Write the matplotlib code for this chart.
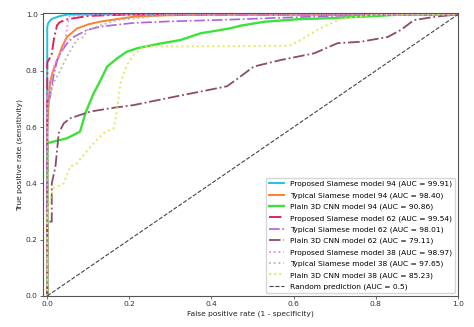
#------------------------------------------------------------------------------
# PROGRAM: roc-curves.py
#------------------------------------------------------------------------------

import numpy as np
import matplotlib
matplotlib.use('agg')
import matplotlib.pyplot as plt; plt.close('all')
from matplotlib import rcParams

#------------------------------------------------------------------------------
# SETTINGS
#------------------------------------------------------------------------------

fontsize = 5.4
rcParams['font.family'] = 'sans-serif'
rcParams['font.sans-serif'] = ['DejaVu Sans']

#------------------------------------------------------------------------------
# DATA: ROC curves (fpr, tpr)
#------------------------------------------------------------------------------

labels = [
    'Proposed Siamese model 94 (AUC = 99.91)',
    'Typical Siamese model 94 (AUC = 98.40)',
    'Plain 3D CNN model 94 (AUC = 90.86)',
    'Proposed Siamese model 62 (AUC = 99.54)',
    'Typical Siamese model 62 (AUC = 98.01)',
    'Plain 3D CNN model 62 (AUC = 79.11)',
    'Proposed Siamese model 38 (AUC = 98.97)',
    'Typical Siamese model 38 (AUC = 97.65)',
    'Plain 3D CNN model 38 (AUC = 85.23)',
]

fpr_p94 = [0.0, 0.0, 0.002, 0.006, 0.011, 0.02, 0.03, 0.05, 1.0]
tpr_p94 = [0.0, 0.955, 0.968, 0.976, 0.984, 0.989, 0.994, 1.0, 1.0]

fpr_t94 = [0.0, 0.0, 0.004, 0.007, 0.014, 0.02, 0.03, 0.036, 0.048, 0.06, 0.072, 0.1, 0.13, 0.21, 0.29, 0.4, 1.0]
tpr_t94 = [0.0, 0.60, 0.70, 0.76, 0.80, 0.82, 0.86, 0.885, 0.92, 0.935, 0.95, 0.965, 0.975, 0.992, 0.997, 1.0, 1.0]

fpr_c94 = [0.0, 0.0, 0.02, 0.048, 0.072, 0.08, 0.093, 0.113, 0.13, 0.146, 0.17, 0.194, 0.219,
           0.276, 0.324, 0.373, 0.422, 0.446, 0.47, 0.528, 0.609, 0.69, 0.804, 0.86, 1.0]
tpr_c94 = [0.0, 0.543, 0.55, 0.56, 0.578, 0.584, 0.65, 0.72, 0.767, 0.815, 0.844, 0.868, 0.88,
           0.897, 0.909, 0.933, 0.945, 0.951, 0.96, 0.974, 0.983, 0.987, 0.995, 1.0, 1.0]

fpr_p62 = [0.0, 0.0, 0.006, 0.011, 0.017, 0.024, 0.03, 0.045, 0.1, 0.2, 1.0]
tpr_p62 = [0.0, 0.83, 0.845, 0.86, 0.92, 0.962, 0.972, 0.982, 0.995, 1.0, 1.0]

fpr_t62 = [0.0, 0.0, 0.007, 0.015, 0.024, 0.032, 0.048, 0.064, 0.097, 0.13, 0.21, 0.29, 0.45, 0.6, 0.8, 1.0]
tpr_t62 = [0.0, 0.68, 0.708, 0.779, 0.838, 0.862, 0.897, 0.92, 0.945, 0.957, 0.97, 0.975, 0.982, 0.99, 1.0, 1.0]

fpr_c62 = [0.0, 0.0, 0.011, 0.011, 0.02, 0.028, 0.04, 0.056, 0.08, 0.105, 0.154, 0.21, 0.29, 0.373,
           0.438, 0.47, 0.503, 0.568, 0.65, 0.707, 0.763, 0.829, 0.861, 0.893, 0.95, 1.0]
tpr_c62 = [0.0, 0.264, 0.264, 0.40, 0.46, 0.578, 0.613, 0.631, 0.643, 0.655, 0.667, 0.678, 0.702, 0.726,
           0.745, 0.779, 0.815, 0.838, 0.862, 0.898, 0.903, 0.92, 0.945, 0.98, 0.993, 1.0]

fpr_p38 = [0.0, 0.0, 0.01, 0.02, 0.03, 0.04, 0.045, 0.05, 0.055, 0.1, 1.0]
tpr_p38 = [0.0, 0.70, 0.78, 0.83, 0.86, 0.88, 0.92, 0.97, 0.995, 1.0, 1.0]

fpr_t38 = [0.0, 0.0, 0.008, 0.015, 0.032, 0.048, 0.056, 0.072, 0.089, 0.097, 0.12, 0.17, 0.3, 1.0]
tpr_t38 = [0.0, 0.65, 0.72, 0.756, 0.802, 0.85, 0.87, 0.91, 0.92, 0.945, 0.957, 0.98, 1.0, 1.0]

fpr_c38 = [0.0, 0.0, 0.015, 0.04, 0.056, 0.072, 0.105, 0.137, 0.162, 0.17, 0.178, 0.194, 0.21, 0.235,
           0.4, 0.59, 0.617, 0.666, 0.715, 0.80, 1.0]
tpr_c38 = [0.0, 0.305, 0.382, 0.40, 0.46, 0.471, 0.53, 0.578, 0.596, 0.66, 0.755, 0.82, 0.856, 0.886,
           0.887, 0.889, 0.91, 0.952, 0.984, 1.0, 1.0]

random_fpr = [0.0, 1.0]
random_tpr = [0.0, 1.0]

#------------------------------------------------------------------------------
# STYLES
#------------------------------------------------------------------------------

curves = [
    (fpr_p94, tpr_p94, '#1fc3e3', '-', 1.4),
    (fpr_t94, tpr_t94, '#ff7f2a', '-', 1.4),
    (fpr_c94, tpr_c94, '#3be23b', '-', 1.7),
    (fpr_p62, tpr_p62, '#e0245a', '-.', 1.4),
    (fpr_t62, tpr_t62, '#b160dc', '-.', 1.2),
    (fpr_c62, tpr_c62, '#8a4c68', '-.', 1.3),
    (fpr_p38, tpr_p38, '#ee82ee', ':', 1.3),
    (fpr_t38, tpr_t38, '#b4b4b4', ':', 1.3),
    (fpr_c38, tpr_c38, '#e6e65a', ':', 1.4),
]

#==============================================================================
# PLOT
#==============================================================================

fig = plt.figure(figsize=(4.74, 3.27), dpi=100)
ax = fig.add_axes([0.091, 0.095, 0.875, 0.865])

for (fx, ty, col, ls, lw), lab in zip(curves, labels):
    ax.plot(fx, ty, color=col, ls=ls, lw=lw, label=lab)
ax.plot(random_fpr, random_tpr, color='#444444', ls='--', lw=0.8, label='Random prediction (AUC = 0.5)')

ax.set_xlim(-0.01, 1.0)
ax.set_ylim(0.0, 1.005)
ax.set_xticks([0.0, 0.2, 0.4, 0.6, 0.8, 1.0])
ax.set_yticks([0.0, 0.2, 0.4, 0.6, 0.8, 1.0])
ax.tick_params(labelsize=fontsize, length=2, width=0.5, pad=2, colors='#333333')
for s in ax.spines.values():
    s.set_linewidth(0.8)
    s.set_color('#555555')
ax.set_xlabel('False positive rate (1 - specificity)', fontsize=fontsize, color='#222222', labelpad=2)
ax.set_ylabel('True positive rate (sensitivity)', fontsize=fontsize, color='#222222', labelpad=2)
ax.legend(loc='lower right', fontsize=fontsize, handlelength=2.0, labelspacing=0.62, borderaxespad=0.4)

plt.savefig('out.png', dpi=100)
plt.close(fig)
